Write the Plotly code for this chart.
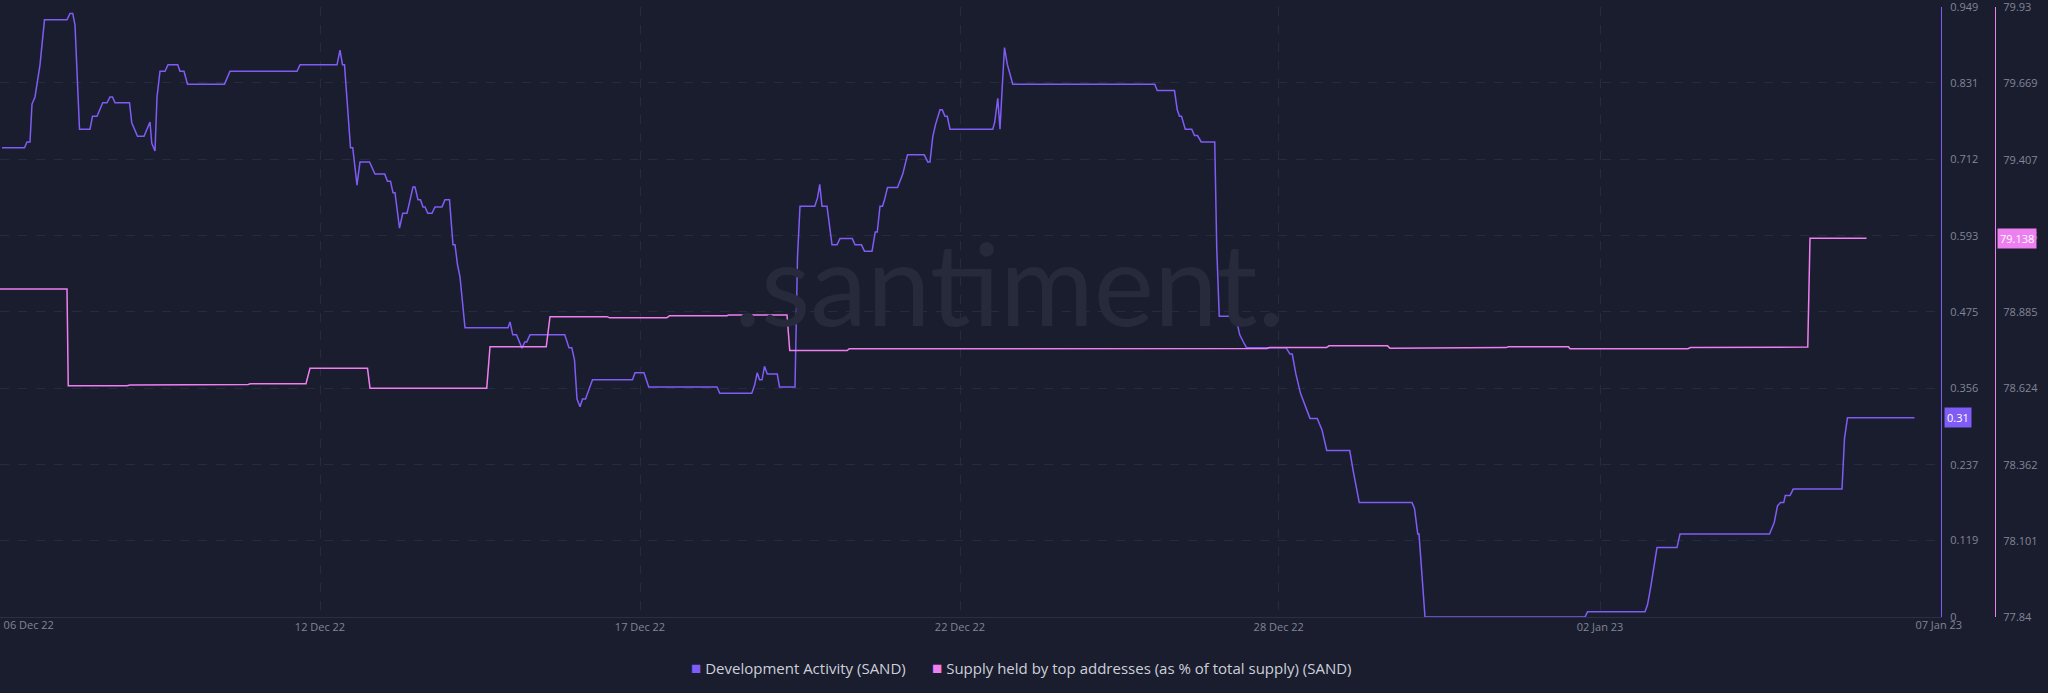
import pandas as pd
import plotly.graph_objects as go

# ---------------- data ----------------
BASE = "2022-12-06 00:00"  # time origin; x values are hours after it

dev_hours = [18.8, 27.8, 28.8, 30.0, 30.8, 32.0, 34.0, 35.8, 44.8, 46.0, 47.1, 48.0, 49.8, 54.0, 55.0, 56.8,
             59.1, 60.8, 62.0, 63.0, 64.0, 69.8, 70.7, 73.0, 75.6, 78.0, 78.7, 80.0, 80.8, 82.0, 84.0, 85.2,
             89.1, 90.0, 91.6, 93.0, 107.8, 110.0, 136.8, 138.0, 152.8, 154.0, 155.0, 155.8, 158.2, 159.1,
             160.8, 162.0, 165.8, 168.0, 171.9, 173.0, 174.2, 175.2, 176.0, 177.8, 179.1, 180.8, 183.2, 184.0,
             185.2, 186.2, 187.2, 188.0, 189.1, 190.8, 192.0, 194.8, 196.0, 197.8, 199.2, 200.0, 201.0, 202.0,
             204.0, 221.2, 222.0, 223.1, 224.6, 226.8, 227.9, 228.7, 230.0, 243.9, 245.6, 246.7, 247.8, 248.8,
             250.0, 251.0, 252.2, 255.0, 271.0, 272.0, 275.6, 277.5, 304.8, 305.9, 318.7, 319.8, 320.9, 321.8,
             322.8, 323.8, 324.9, 328.9, 329.8, 336.0, 337.0, 338.0, 343.9, 345.0, 345.9, 346.8, 348.8, 350.8,
             352.8, 354.0, 358.9, 360.0, 362.6, 363.8, 366.8, 368.1, 368.9, 370.0, 371.0, 371.8, 373.0, 377.0,
             379.1, 381.0, 387.7, 389.1, 390.0, 391.1, 392.2, 394.0, 394.9, 396.0, 396.9, 398.0, 415.1, 415.9,
             417.1, 418.0, 418.9, 419.8, 420.9, 421.7, 423.1, 479.9, 480.9, 487.8, 488.9, 489.8, 490.6, 492.1,
             494.7, 495.8, 497.0, 498.5, 503.9, 504.7, 505.7, 510.8, 511.8, 512.8, 513.9, 515.2, 516.6, 532.4,
             534.0, 534.9, 536.3, 538.2, 542.0, 544.9, 546.8, 548.7, 557.9, 559.2, 560.2, 561.7, 582.8, 583.8,
             585.1, 585.6, 588.0, 652.0, 653.0, 676.0, 677.0, 678.3, 680.8, 688.8, 690.0, 725.8, 727.7, 729.0,
             730.2, 731.5, 732.1, 734.0, 735.3, 754.8, 755.8, 757.0, 783.8]
dev_values = [0.730, 0.730, 0.739, 0.739, 0.798, 0.809, 0.859, 0.929, 0.929, 0.939, 0.939, 0.921, 0.759, 0.759,
              0.779, 0.779, 0.800, 0.800, 0.809, 0.809, 0.800, 0.800, 0.769, 0.748, 0.748, 0.770, 0.737, 0.725,
              0.809, 0.849, 0.849, 0.859, 0.859, 0.849, 0.849, 0.829, 0.829, 0.849, 0.849, 0.859, 0.859, 0.882,
              0.859, 0.859, 0.730, 0.730, 0.672, 0.708, 0.708, 0.689, 0.689, 0.678, 0.678, 0.660, 0.660, 0.605,
              0.628, 0.628, 0.669, 0.669, 0.649, 0.649, 0.638, 0.638, 0.628, 0.628, 0.638, 0.638, 0.649, 0.649,
              0.579, 0.579, 0.548, 0.529, 0.450, 0.450, 0.459, 0.439, 0.439, 0.418, 0.428, 0.428, 0.439, 0.439,
              0.419, 0.419, 0.400, 0.339, 0.327, 0.339, 0.339, 0.369, 0.369, 0.380, 0.380, 0.358, 0.358, 0.348,
              0.348, 0.360, 0.380, 0.369, 0.369, 0.390, 0.378, 0.378, 0.358, 0.358, 0.560, 0.639, 0.639, 0.652,
              0.673, 0.639, 0.639, 0.579, 0.579, 0.589, 0.589, 0.579, 0.579, 0.569, 0.569, 0.599, 0.599, 0.639,
              0.639, 0.649, 0.668, 0.668, 0.689, 0.719, 0.719, 0.708, 0.708, 0.747, 0.766, 0.789, 0.789, 0.779,
              0.779, 0.759, 0.759, 0.770, 0.807, 0.759, 0.825, 0.886, 0.860, 0.850, 0.829, 0.829, 0.819, 0.819,
              0.789, 0.779, 0.779, 0.759, 0.759, 0.749, 0.749, 0.739, 0.739, 0.573, 0.468, 0.468, 0.458, 0.458,
              0.439, 0.429, 0.419, 0.419, 0.409, 0.409, 0.379, 0.348, 0.309, 0.309, 0.291, 0.259, 0.259, 0.229,
              0.208, 0.178, 0.178, 0.169, 0.129, 0.129, 0.0, 0.0, 0.008, 0.008, 0.019, 0.047, 0.108, 0.108,
              0.129, 0.129, 0.147, 0.173, 0.178, 0.178, 0.189, 0.189, 0.199, 0.199, 0.278, 0.31, 0.31]

supply_hours = [18.0, 44.8, 45.3, 68.8, 70.0, 93.4, 94.3, 117.2, 118.2, 140.4, 142.0, 165.0, 166.0, 212.7,
                214.0, 236.5, 238.0, 260.8, 261.9, 284.7, 285.8, 308.8, 309.6, 332.8, 333.9, 356.9, 357.7,
                501.6, 502.4, 524.8, 525.8, 548.6, 549.6, 573.0, 574.0, 597.5, 598.4, 620.4, 621.4, 645.4,
                646.0, 693.2, 694.2, 717.4, 718.4, 741.1, 742.0, 764.6]
supply_values = [78.964, 78.964, 78.632, 78.632, 78.635, 78.635, 78.637, 78.637, 78.639, 78.639, 78.692,
                 78.692, 78.624, 78.624, 78.766, 78.766, 78.869, 78.869, 78.865, 78.865, 78.872, 78.872,
                 78.875, 78.875, 78.753, 78.753, 78.759, 78.759, 78.760, 78.760, 78.763, 78.763, 78.769,
                 78.769, 78.761, 78.761, 78.763, 78.763, 78.766, 78.766, 78.759, 78.759, 78.763, 78.763,
                 78.765, 78.765, 79.138, 79.138]

x_range_hours = [18.0, 794.4]
x_tick_dates = ["2022-12-12 02:00", "2022-12-17 10:00", "2022-12-22 18:00", "2022-12-28 01:30", "2023-01-02 10:00"]
x_tick_labels = ["12 Dec 22", "17 Dec 22", "22 Dec 22", "28 Dec 22", "02 Jan 23"]
x_edge_dates = ["2022-12-07 05:30", "2023-01-08 01:30"]
x_edge_labels = ["06 Dec 22", "07 Jan 23"]

dev_ticks = [0, 0.119, 0.237, 0.356, 0.475, 0.593, 0.712, 0.831, 0.949]
dev_tick_labels = ["0", "0.119", "0.237", "0.356", "0.475", "0.593", "0.712", "0.831", "0.949"]
supply_ticks = [77.84, 78.101, 78.362, 78.624, 78.885, 79.146, 79.407, 79.669, 79.93]
supply_tick_labels = ["77.84", "78.101", "78.362", "78.624", "78.885", "79.146", "79.407", "79.669", "79.93"]

dev_last = 0.31
supply_last = 79.138
dev_name = "Development Activity (SAND)"
supply_name = "Supply held by top addresses (as % of total supply) (SAND)"

# ---------------- style ----------------
BG = "#1a1d2d"
GRID = "#272b3e"
PURPLE = "#7f5cf6"
PINK = "#ee7ff0"
TICK_COLOR = "#80859a"
FONT = "Open Sans"
W, H = 2048, 693
PLOT_RIGHT = 1941
SUPPLY_AXIS_X = 1995
PLOT_TOP, PLOT_BOTTOM = 7, 617

base = pd.Timestamp(BASE)


def to_time(hours):
    return [base + pd.Timedelta(hours=h) for h in hours]


fig = go.Figure()
fig.add_trace(go.Scatter(x=to_time(dev_hours), y=dev_values, mode="lines", yaxis="y",
                         line=dict(color=PURPLE, width=1.5), showlegend=False, hoverinfo="skip"))
fig.add_trace(go.Scatter(x=to_time(supply_hours), y=supply_values, mode="lines", yaxis="y2",
                         line=dict(color=PINK, width=1.5), showlegend=False, hoverinfo="skip"))
# empty trace so the edge-label x axis is drawn
fig.add_trace(go.Scatter(x=[None], y=[None], xaxis="x2", yaxis="y", mode="lines",
                         showlegend=False, hoverinfo="skip"))

xr = to_time(x_range_hours)
dom = [0, PLOT_RIGHT / W]
tickfont = dict(family=FONT, size=11, color=TICK_COLOR)

fig.update_layout(
    template="none",
    width=W, height=H, autosize=False,
    margin=dict(l=0, r=0, t=PLOT_TOP, b=H - PLOT_BOTTOM, pad=0, autoexpand=False),
    paper_bgcolor=BG, plot_bgcolor=BG,
    font=dict(family=FONT),
    showlegend=False,
    xaxis=dict(type="date", domain=dom, range=xr, tickmode="array", automargin=False,
               tickvals=x_tick_dates, ticktext=x_tick_labels, tickfont=tickfont,
               showgrid=True, gridcolor=GRID, griddash="dash", gridwidth=1,
               showline=True, linecolor="#2b2f43", linewidth=1, ticks="", ticklen=0,
               ticklabelstandoff=0, zeroline=False, fixedrange=True),
    xaxis2=dict(type="date", domain=dom, range=xr, overlaying="x", anchor="y", automargin=False,
                side="bottom", tickmode="array", tickvals=x_edge_dates,
                ticktext=x_edge_labels, tickfont=tickfont, showgrid=False,
                showline=False, ticks="", ticklen=0, ticklabelstandoff=0,
                ticklabeloverflow="allow", zeroline=False, fixedrange=True),
    yaxis=dict(side="right", range=[0, 0.949], tickmode="array", tickvals=dev_ticks, automargin=False,
               ticktext=dev_tick_labels, tickfont=tickfont, showgrid=True, gridcolor=GRID,
               griddash="dash", showline=True, linecolor=PURPLE, linewidth=1.2, ticks="",
               ticklen=0, ticklabelstandoff=6, ticklabeloverflow="allow",
               zeroline=False, fixedrange=True),
    yaxis2=dict(side="right", overlaying="y", anchor="free", position=SUPPLY_AXIS_X / W,
                automargin=False, range=[77.84, 79.93], tickmode="array", tickvals=supply_ticks,
                ticktext=supply_tick_labels, tickfont=tickfont, showgrid=False,
                showline=True, linecolor=PINK, linewidth=1.2, ticks="", ticklen=0,
                ticklabelstandoff=5, ticklabeloverflow="allow", zeroline=False, fixedrange=True),
    hovermode=False,
)

# watermark
fig.add_annotation(text=".santiment.", xref="paper", yref="paper", x=0.493, y=0.55,
                   showarrow=False, font=dict(family="Lato", size=114, color="#262a3b", weight=400))

# last-value badges on the axes
fig.add_annotation(text=f"{dev_last:g}", xref="paper", yref="y", x=(PLOT_RIGHT + 3) / W, y=dev_last,
                   xanchor="left", yanchor="middle", showarrow=False, bgcolor=PURPLE,
                   borderpad=2, font=dict(family=FONT, size=11, color="#ffffff"))
fig.add_annotation(text=f"{supply_last:.3f}", xref="paper", yref="y2", x=(SUPPLY_AXIS_X + 2) / W,
                   y=supply_last, xanchor="left", yanchor="middle", showarrow=False, bgcolor=PINK,
                   borderpad=2, font=dict(family=FONT, size=11, color="#ffffff"))

# legend (square swatch + name), centred under the chart
legend_y = (PLOT_BOTTOM - 667) / (PLOT_BOTTOM - PLOT_TOP)
legend_font = dict(family=FONT, size=15, color="#cdd0da")
for name, color, left in [(dev_name, PURPLE, 689), (supply_name, PINK, 930)]:
    fig.add_annotation(text=f"<span style='color:{color};font-size:17px'>■</span> {name}",
                       xref="paper", yref="paper", x=left / W, y=legend_y, xanchor="left",
                       yanchor="middle", showarrow=False, font=legend_font)

# the page itself should add no margin or scrollbars around the 2048x693 figure
page_style = (
    "var s=document.createElement('style');"
    f"s.textContent='html,body{{margin:0;padding:0;overflow:hidden;width:{W}px;height:{H}px;background:{BG};}}';"
    "document.head.appendChild(s);"
)
fig.write_html("out.html", post_script=page_style, config={"displayModeBar": False})
